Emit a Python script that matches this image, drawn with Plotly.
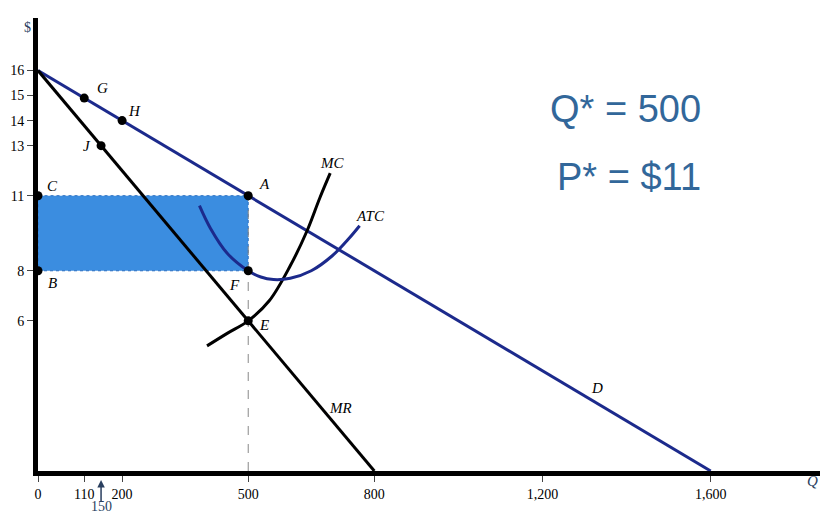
import plotly.graph_objects as go

# demand / marginal revenue end points
demand_q = [0, 1600]
demand_p = [16, 0]
mr_q = [0, 800]
mr_p = [16, 0]

# cost curves
mc_q = [402, 450, 500, 550, 600, 640, 670, 695]
mc_p = [5.0, 5.5, 6.0, 6.8, 8.2, 9.6, 10.9, 11.9]
atc_q = [384, 410, 450, 500, 530, 560, 600, 650, 700, 740, 765]
atc_p = [10.6, 9.7, 8.7, 8.0, 7.75, 7.65, 7.7, 8.0, 8.6, 9.3, 9.8]

q_star, p_star, atc_star = 500, 11, 8

pts = {"G": (110, 14.9), "H": (200, 14), "J": (150, 13),
       "A": (500, 11), "F": (500, 8), "E": (500, 6), "C": (0, 11), "B": (0, 8)}

x_ticks = [0, 110, 200, 500, 800, 1200, 1600]
x_labels = ["0", "110", "200", "500", "800", "1,200", "1,600"]
y_ticks = [6, 8, 11, 13, 14, 15, 16]

serif = "Liberation Serif"
navy = "#1c2a8c"
fig = go.Figure()

# profit rectangle
fig.add_trace(go.Scatter(x=[0, q_star, q_star, 0, 0], y=[atc_star, atc_star, p_star, p_star, atc_star],
                         fill="toself", fillcolor="#3b8de0", line=dict(color="#2b6fc0", width=1, dash="dot"),
                         mode="lines", hoverinfo="skip"))
fig.add_trace(go.Scatter(x=[q_star, q_star], y=[0, p_star], mode="lines",
                         line=dict(color="#888", width=1, dash="dash")))
fig.add_trace(go.Scatter(x=demand_q, y=demand_p, mode="lines", line=dict(color=navy, width=3)))
fig.add_trace(go.Scatter(x=mr_q, y=mr_p, mode="lines", line=dict(color="black", width=3)))
fig.add_trace(go.Scatter(x=mc_q, y=mc_p, mode="lines", line=dict(color="black", width=3, shape="spline")))
fig.add_trace(go.Scatter(x=atc_q, y=atc_p, mode="lines", line=dict(color=navy, width=3, shape="spline")))
fig.add_trace(go.Scatter(x=[p[0] for p in pts.values()], y=[p[1] for p in pts.values()], mode="markers",
                         marker=dict(color="black", size=9), cliponaxis=False))

# point labels
offs = {"G": (18, 10), "H": (12, 10), "J": (-14, 0), "A": (16, 12), "F": (-14, -14), "E": (16, -4),
        "C": (14, 10), "B": (14, -12)}
for k, (q, p) in pts.items():
    fig.add_annotation(x=q, y=p, text="<i>" + k + "</i>", showarrow=False, xshift=offs[k][0], yshift=offs[k][1],
                       font=dict(family=serif, size=15, color="black"))
for txt, q, p in [("MC", 700, 12.3), ("ATC", 790, 10.2), ("MR", 720, 2.5), ("D", 1330, 3.3)]:
    fig.add_annotation(x=q, y=p, text="<i>" + txt + "</i>", showarrow=False,
                       font=dict(family=serif, size=15, color="black"))

fig.add_annotation(x=150, y=-0.02, xref="x", yref="paper", ax=0, ay=22, text="", showarrow=True,
                   arrowhead=2, arrowwidth=1.5, yanchor="top")
fig.add_annotation(x=150, y=-0.1, xref="x", yref="paper", text="150", showarrow=False,
                   font=dict(family=serif, size=14))
fig.add_annotation(x=0, y=1.0, xref="paper", yref="paper", text="$", showarrow=False, xshift=-16,
                   font=dict(family=serif, size=14))
fig.add_annotation(x=1.0, y=-0.045, xref="paper", yref="paper", text="<i>Q</i>", showarrow=False,
                   font=dict(family=serif, size=15))

fig.add_annotation(xref="paper", yref="paper", x=0.85, y=0.85, text="Q* = 500", showarrow=False,
                   font=dict(family="Liberation Sans", size=38, color="#32679a"))
fig.add_annotation(xref="paper", yref="paper", x=0.85, y=0.70, text="P* = $11", showarrow=False,
                   font=dict(family="Liberation Sans", size=38, color="#32679a"))

fig.update_layout(
    width=831, height=523, showlegend=False, plot_bgcolor="white", paper_bgcolor="white",
    margin=dict(l=30, r=19, t=10, b=60, autoexpand=False),
    xaxis=dict(range=[0, 1860], tickvals=x_ticks, ticktext=x_labels, showgrid=False, zeroline=False,
               showline=True, linecolor="black", linewidth=5, ticks="outside", ticklen=6, automargin=False,
               tickfont=dict(family=serif, size=14, color="black")),
    yaxis=dict(range=[0, 18.1], tickvals=y_ticks, showgrid=False, zeroline=False, automargin=False,
               showline=True, linecolor="black", linewidth=5, ticks="outside", ticklen=6,
               tickfont=dict(family=serif, size=14, color="black")),
)
fig.write_html("out.html")
